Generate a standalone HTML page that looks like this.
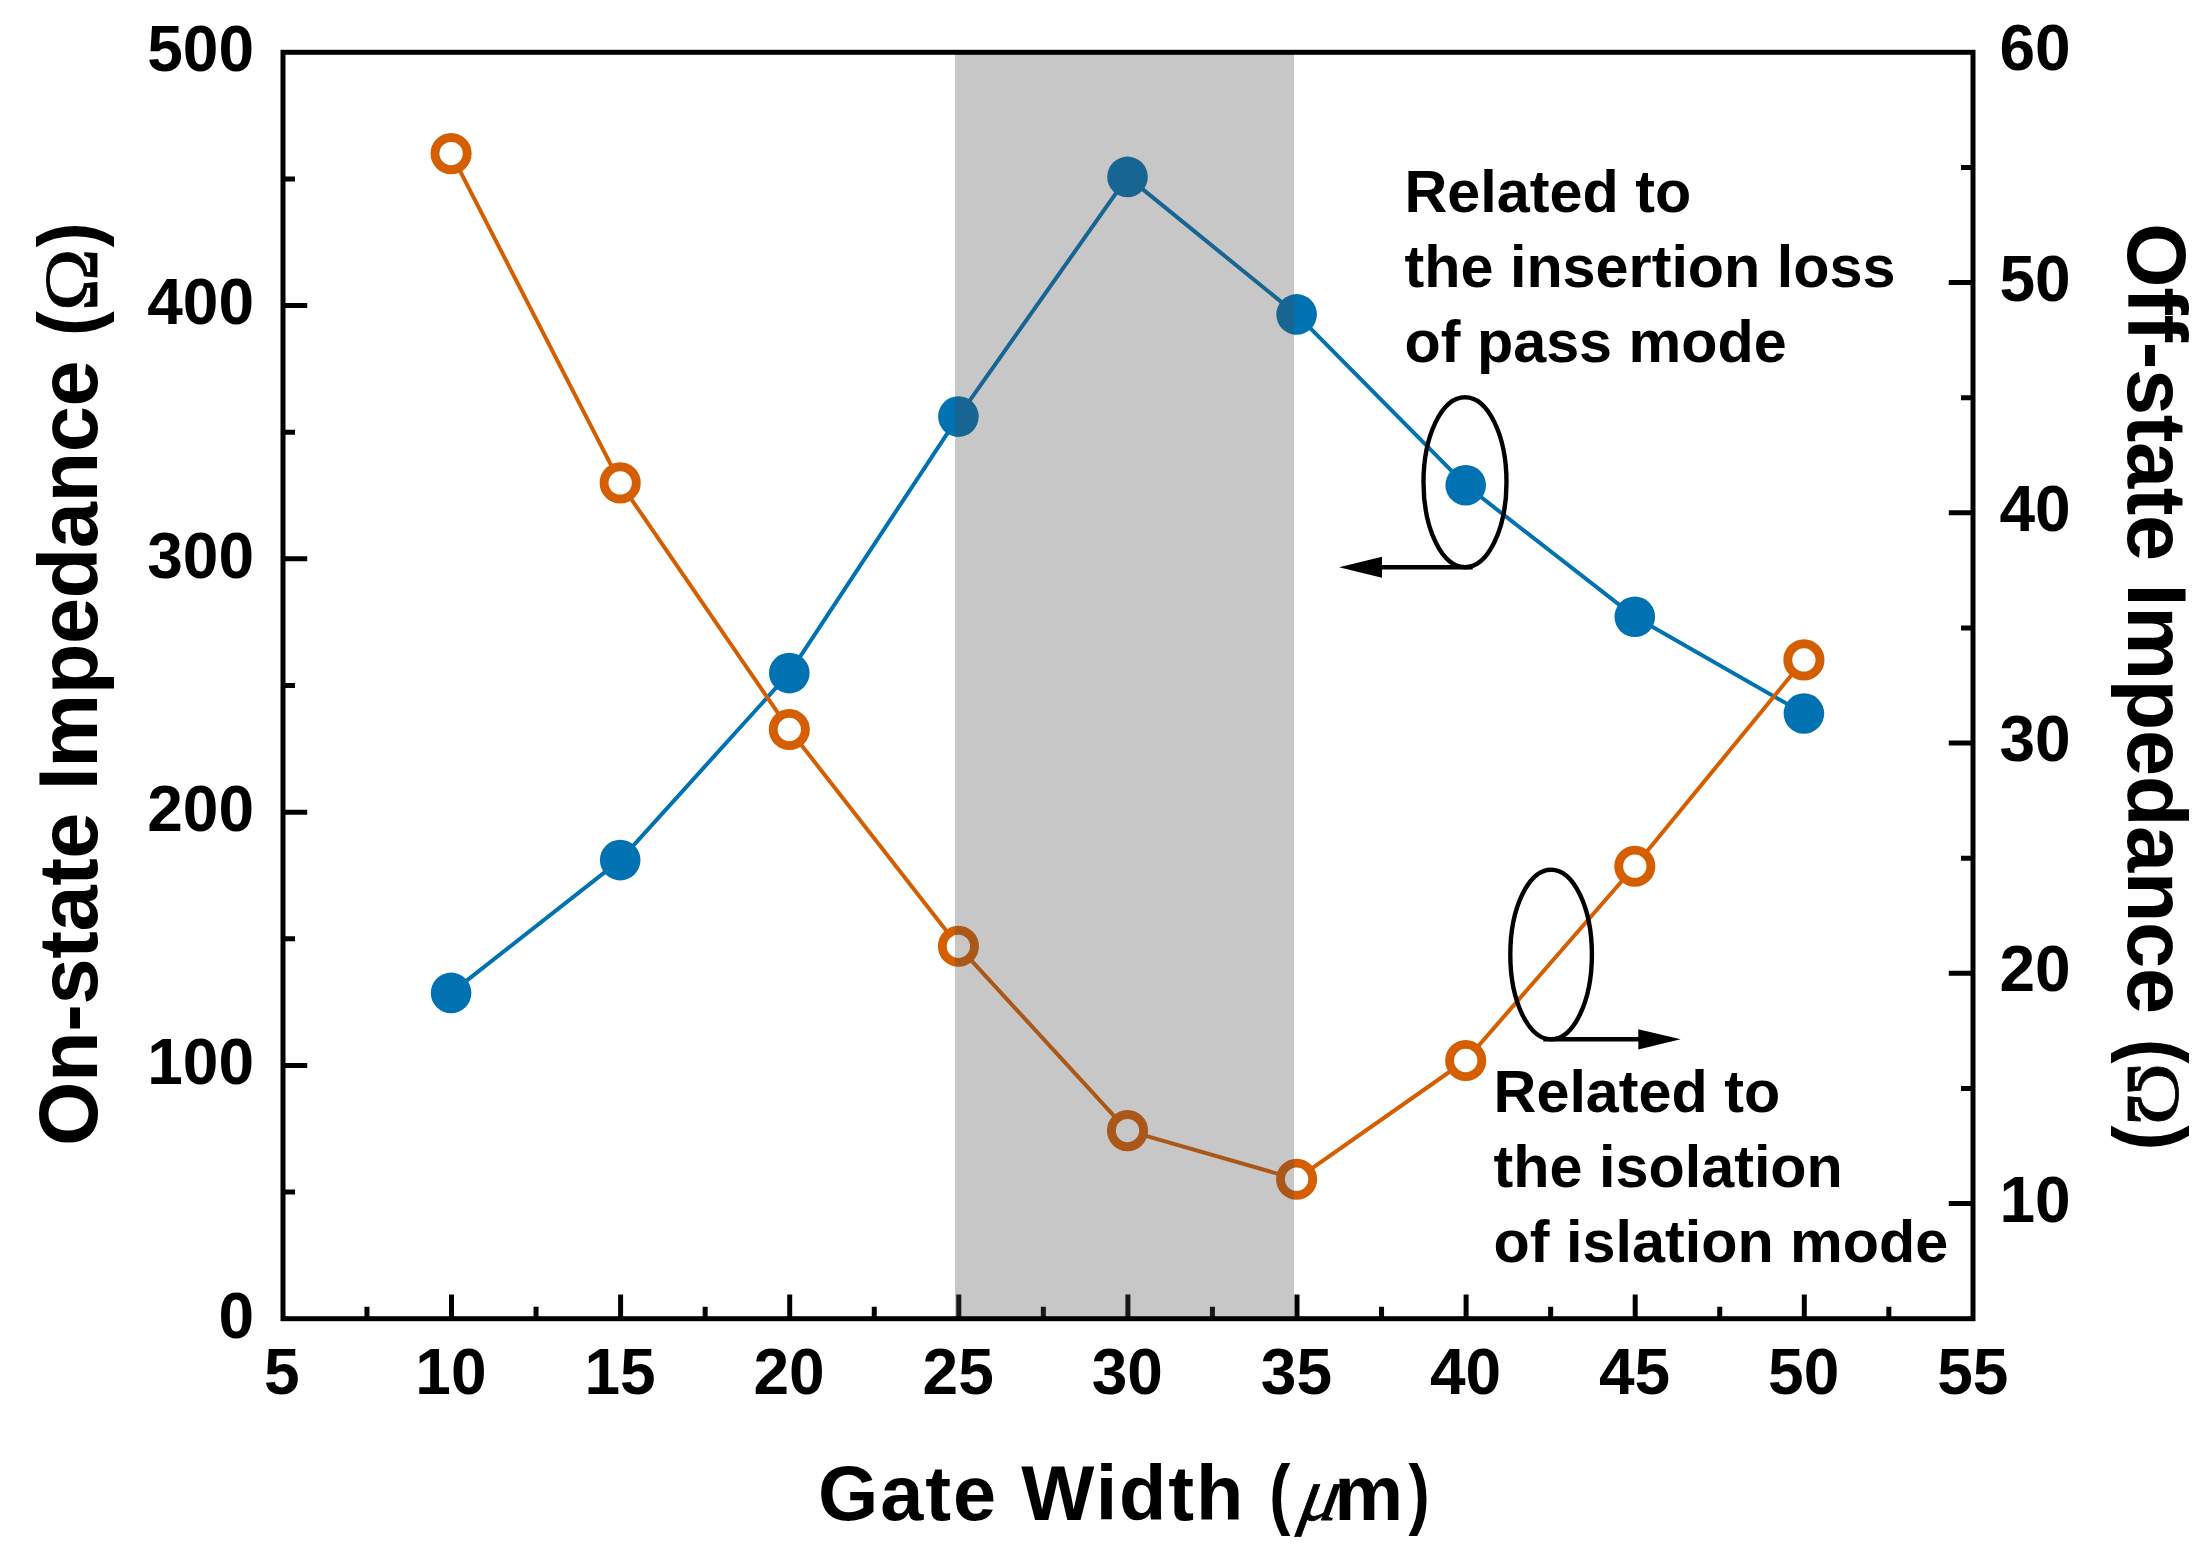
<!DOCTYPE html>
<html lang="en">
<head>
<meta charset="utf-8">
<title>On-state and Off-state Impedance vs Gate Width</title>
<style>
html,body{margin:0;padding:0;background:#fff;}
body{width:2203px;height:1563px;overflow:hidden;}
svg{display:block;filter:blur(0.45px);}
text{font-family:'Liberation Sans', Arial, Helvetica, sans-serif;font-weight:bold;fill:#000;}
.tick{font-size:64px;}
.ann{font-size:59.3px;}
.ylab{font-size:83px;}
.xlab{font-size:77.5px;}
.sym{font-family:'Liberation Serif', 'Times New Roman', serif;font-weight:normal;}
.symi{font-family:'Liberation Serif', 'Times New Roman', serif;font-weight:normal;font-style:italic;}
</style>
</head>
<body>
<svg width="2203" height="1563" viewBox="0 0 2203 1563">
<rect x="0" y="0" width="2203" height="1563" fill="#ffffff"/>
<path d="M283.00 1065.42H307.20M283.00 812.14H307.20M283.00 558.86H307.20M283.00 305.58H307.20M283.00 1192.06H295.00M283.00 938.78H295.00M283.00 685.50H295.00M283.00 432.22H295.00M283.00 178.94H295.00M1973.00 1203.57H1948.80M1973.00 973.32H1948.80M1973.00 743.06H1948.80M1973.00 512.81H1948.80M1973.00 282.55H1948.80M1973.00 1088.45H1961.00M1973.00 858.19H1961.00M1973.00 627.94H1961.00M1973.00 397.68H1961.00M1973.00 167.43H1961.00M451.50 1318.70V1294.50M620.60 1318.70V1294.50M789.70 1318.70V1294.50M958.80 1318.70V1294.50M1127.90 1318.70V1294.50M1297.00 1318.70V1294.50M1466.10 1318.70V1294.50M1635.20 1318.70V1294.50M1804.30 1318.70V1294.50M366.95 1318.70V1306.70M536.05 1318.70V1306.70M705.15 1318.70V1306.70M874.25 1318.70V1306.70M1043.35 1318.70V1306.70M1212.45 1318.70V1306.70M1381.55 1318.70V1306.70M1550.65 1318.70V1306.70M1719.75 1318.70V1306.70M1888.85 1318.70V1306.70" fill="none" stroke="#000" stroke-width="5"/>
<polyline points="451.1,992.9 620.2,860.1 789.3,673.1 958.4,416.6 1127.5,176.9 1296.6,314.4 1465.7,485.2 1634.8,616.8 1803.9,713.5" fill="none" stroke="#0072b2" stroke-width="4" stroke-linejoin="round"/>
<polyline points="451.1,153.6 620.2,482.9 789.3,729.5 958.4,946.3 1127.5,1130.6 1296.6,1179.2 1465.7,1060.5 1634.8,866.2 1803.9,659.9" fill="none" stroke="#d55e00" stroke-width="4" stroke-linejoin="round"/>
<circle cx="451.1" cy="992.9" r="20.3" fill="#0072b2"/>
<circle cx="620.2" cy="860.1" r="20.3" fill="#0072b2"/>
<circle cx="789.3" cy="673.1" r="20.3" fill="#0072b2"/>
<circle cx="958.4" cy="416.6" r="20.3" fill="#0072b2"/>
<circle cx="1127.5" cy="176.9" r="20.3" fill="#0072b2"/>
<circle cx="1296.6" cy="314.4" r="20.3" fill="#0072b2"/>
<circle cx="1465.7" cy="485.2" r="20.3" fill="#0072b2"/>
<circle cx="1634.8" cy="616.8" r="20.3" fill="#0072b2"/>
<circle cx="1803.9" cy="713.5" r="20.3" fill="#0072b2"/>
<circle cx="451.1" cy="153.6" r="16.1" fill="#fff" stroke="#d55e00" stroke-width="8.9"/>
<circle cx="620.2" cy="482.9" r="16.1" fill="#fff" stroke="#d55e00" stroke-width="8.9"/>
<circle cx="789.3" cy="729.5" r="16.1" fill="#fff" stroke="#d55e00" stroke-width="8.9"/>
<circle cx="958.4" cy="946.3" r="16.1" fill="#fff" stroke="#d55e00" stroke-width="8.9"/>
<circle cx="1127.5" cy="1130.6" r="16.1" fill="#fff" stroke="#d55e00" stroke-width="8.9"/>
<circle cx="1296.6" cy="1179.2" r="16.1" fill="#fff" stroke="#d55e00" stroke-width="8.9"/>
<circle cx="1465.7" cy="1060.5" r="16.1" fill="#fff" stroke="#d55e00" stroke-width="8.9"/>
<circle cx="1634.8" cy="866.2" r="16.1" fill="#fff" stroke="#d55e00" stroke-width="8.9"/>
<circle cx="1803.9" cy="659.9" r="16.1" fill="#fff" stroke="#d55e00" stroke-width="8.9"/>
<rect x="955" y="54" width="339" height="1262.5" fill="rgb(75,75,75)" fill-opacity="0.31"/>
<rect x="283.00" y="52.30" width="1690.00" height="1266.40" fill="none" stroke="#000" stroke-width="5"/>
<ellipse cx="1465" cy="482.2" rx="41.5" ry="85" fill="none" stroke="#000" stroke-width="4.4"/>
<path d="M1472.7 567.2H1380" fill="none" stroke="#000" stroke-width="4.4"/>
<path d="M1339 567.2L1382 556.8V577.8Z" fill="#000"/>
<ellipse cx="1551.1" cy="954.5" rx="40.8" ry="84.8" fill="none" stroke="#000" stroke-width="4.4"/>
<path d="M1543.3 1039.3H1640" fill="none" stroke="#000" stroke-width="4.4"/>
<path d="M1680.6 1039.3L1638.3 1029.2V1049.4Z" fill="#000"/>
<text class="tick" x="254" y="1337.5" text-anchor="end">0</text>
<text class="tick" x="254" y="1084.2" text-anchor="end">100</text>
<text class="tick" x="254" y="830.9" text-anchor="end">200</text>
<text class="tick" x="254" y="577.7" text-anchor="end">300</text>
<text class="tick" x="254" y="324.4" text-anchor="end">400</text>
<text class="tick" x="254" y="71.1" text-anchor="end">500</text>
<text class="tick" x="1999.5" y="1221.6">10</text>
<text class="tick" x="1999.5" y="991.3">20</text>
<text class="tick" x="1999.5" y="761.1">30</text>
<text class="tick" x="1999.5" y="530.8">40</text>
<text class="tick" x="1999.5" y="300.6">50</text>
<text class="tick" x="1999.5" y="70.3">60</text>
<text class="tick" x="281.8" y="1394.3" text-anchor="middle">5</text>
<text class="tick" x="450.9" y="1394.3" text-anchor="middle">10</text>
<text class="tick" x="620.0" y="1394.3" text-anchor="middle">15</text>
<text class="tick" x="789.1" y="1394.3" text-anchor="middle">20</text>
<text class="tick" x="958.2" y="1394.3" text-anchor="middle">25</text>
<text class="tick" x="1127.3" y="1394.3" text-anchor="middle">30</text>
<text class="tick" x="1296.4" y="1394.3" text-anchor="middle">35</text>
<text class="tick" x="1465.5" y="1394.3" text-anchor="middle">40</text>
<text class="tick" x="1634.6" y="1394.3" text-anchor="middle">45</text>
<text class="tick" x="1803.7" y="1394.3" text-anchor="middle">50</text>
<text class="tick" x="1972.8" y="1394.3" text-anchor="middle">55</text>
<text class="ann" x="1404.5" y="212.4">Related to</text>
<text class="ann" x="1404.5" y="287.4">the insertion loss</text>
<text class="ann" x="1404.5" y="362.4">of pass mode</text>
<text class="ann" x="1493.6" y="1112.4">Related to</text>
<text class="ann" x="1493.6" y="1187.4">the isolation</text>
<text class="ann" x="1493.6" y="1262.4">of islation mode</text>
<text class="xlab" x="818" y="1519.6" letter-spacing="1.9">Gate Width</text>
<text class="xlab" transform="translate(1269.2,1519.6) scale(0.82,1)">(</text>
<text class="xlab symi" transform="translate(1298,1519.6) skewX(-11) scale(0.97,1)" stroke="#000" stroke-width="0.9">μ</text>
<text class="xlab" x="1334.3" y="1519.6">m</text>
<text class="xlab" transform="translate(1408.5,1519.6) scale(0.82,1)">)</text>
<g transform="translate(96.5,1146) rotate(-90)">
<text class="ylab" letter-spacing="-0.45">On-state Impedance</text>
<text class="ylab" text-anchor="middle" transform="translate(822.5,0) scale(0.9,1)">(</text>
<text class="ylab sym" style="font-size:77px" text-anchor="middle" stroke="#000" stroke-width="0.8" transform="translate(866.2,0) scale(1.10,1)">Ω</text>
<text class="ylab" text-anchor="middle" transform="translate(911.2,0) scale(0.9,1)">)</text>
</g>
<g transform="translate(2127.5,223) rotate(90)">
<text class="ylab" letter-spacing="-0.38">Off-state Impedance</text>
<text class="ylab" text-anchor="middle" transform="translate(828.1,0) scale(0.9,1)">(</text>
<text class="ylab sym" style="font-size:77px" text-anchor="middle" stroke="#000" stroke-width="0.8" transform="translate(871,0) scale(1.10,1)">Ω</text>
<text class="ylab" text-anchor="middle" transform="translate(915,0) scale(0.9,1)">)</text>
</g>
</svg>
</body>
</html>
